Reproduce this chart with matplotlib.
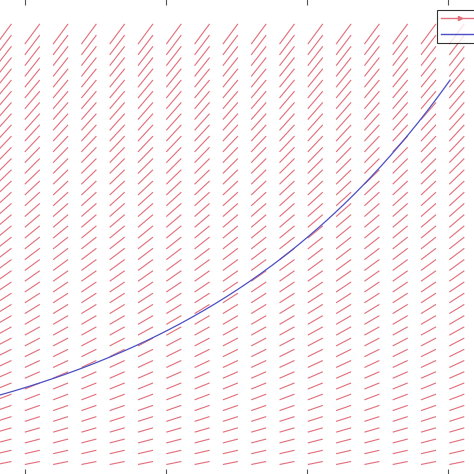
import numpy as np
import matplotlib
matplotlib.use("Agg")
import matplotlib.pyplot as plt
from matplotlib.lines import Line2D

# grid of slope-field sample points (plot units)
grid_x = np.arange(4, 474, 28.3)
grid_y = np.arange(11, 445, 11.0)
slope_bottom = 0.2
slope_top = 1.35
# solution curve samples
curve_x = np.linspace(-5, 450, 200)
curve_a = 79.0
curve_k = 0.00357
tick_pos = [25, 166, 307, 448]

red = '#e2707c'
blue = '#4b4fc4'

fig = plt.figure(figsize=(4.74, 4.74), dpi=100)
ax = fig.add_axes([-5/474, -3/474, 519/474, 480/474])
X, Y = np.meshgrid(grid_x, grid_y)
S = slope_bottom + (slope_top - slope_bottom) * (Y - grid_y.min()) / (grid_y.max() - grid_y.min())
ax.quiver(X, Y, np.ones_like(S), S, angles='xy', scale_units='xy', scale=1/15,
          pivot='mid', color=red, width=0.0022, headwidth=0, headlength=0, headaxislength=0)
ax.plot(curve_x, curve_a * np.exp(curve_k * curve_x), color=blue, lw=0.9)
ax.set_xlim(-5, 514)
ax.set_ylim(-3, 477)
ax.set_xticks(tick_pos)
ax.set_yticks([])
ax.tick_params(direction='in', top=True, labelbottom=False, length=6, color='#555555')
handles = [Line2D([], [], color=red, lw=1, marker='>', markevery=[1], markersize=3),
           Line2D([], [], color=blue, lw=1)]
leg = ax.legend(handles, ['slope field', 'solution'], loc='upper left',
                bbox_to_anchor=(432/474, 1 - 5/474), bbox_transform=fig.transFigure,
                fancybox=False, edgecolor='black', fontsize=7, handlelength=4,
                labelspacing=0.6, borderpad=0.4, handletextpad=0.5)
leg.get_frame().set_linewidth(0.8)
fig.savefig('out.png', dpi=100)
